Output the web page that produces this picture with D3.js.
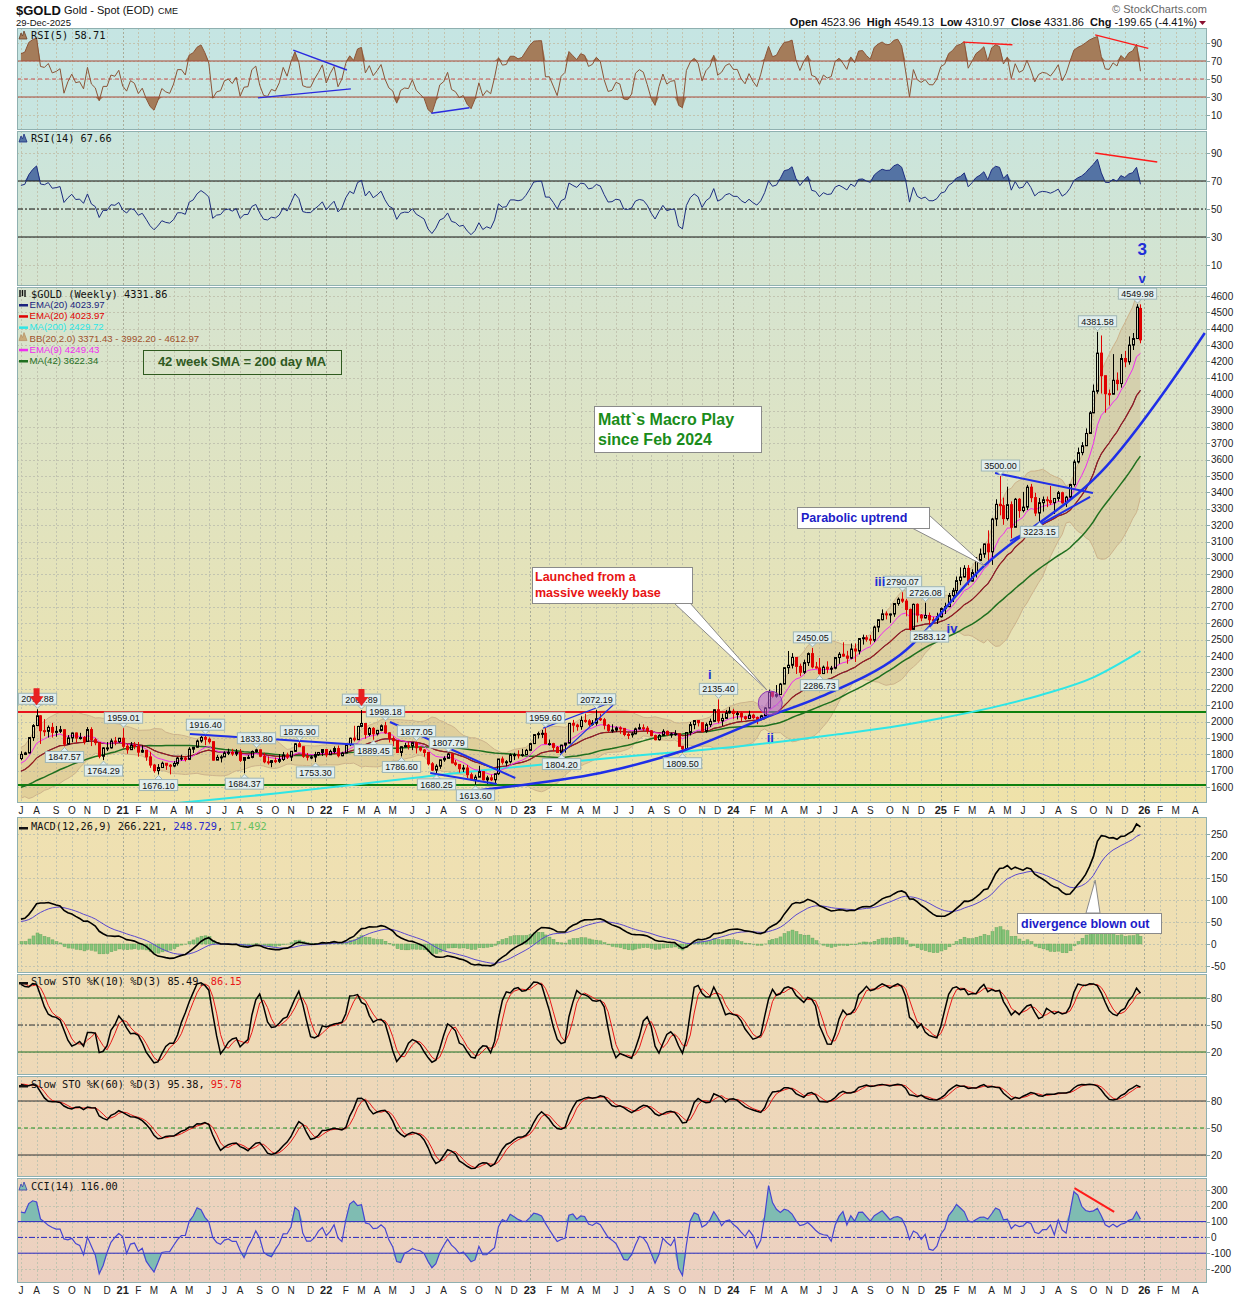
<!DOCTYPE html>
<html>
<head>
<meta charset="utf-8">
<script src="https://cdn.jsdelivr.net/npm/d3@7"></script>
<style>
  body { margin: 0; background: #fff; }
  text { font-family: "Liberation Sans", Arial, sans-serif; }
  .mono { font-family: "DejaVu Sans Mono", monospace; font-size: 10.3px; }
  .leg { font-family: "Liberation Sans", Arial, sans-serif; font-size: 9.6px; }
</style>
</head>
<body>
<svg id="chart" width="1250" height="1300"></svg>
<script>
// weekly closes before the visible window, only used to warm up the indicators
var warmupClose = [1506,1488,1499,1497,1504, 1488,1489,1505,1514, 1459,1468,1462,1464,
  1460,1476,1479,1511,1552, 1557,1557,1571,1589, 1570,1584,1643,1585,
  1674,1529,1498,1625,1620, 1683,1683,1727,1700, 1703,1743,1735,1730,
  1685,1730,1742,1771,1774];

// weekly bars [open, high, low, close], one per Monday from 6-Jul-2020
var bars2020 = [
  [1774,1818,1764,1799],[1799,1815,1795,1808],[1808,1905,1805,1902],[1902,1984,1882,1975],
  [1975,2075,1973,2035],[2035,2040,1863,1944],[1944,2015,1911,1940],[1940,1976,1902,1964],[1964,1992,1902,1934],
  [1934,1973,1907,1940],[1940,1973,1930,1950],[1950,1952,1848,1862],[1862,1917,1860,1900],
  [1900,1932,1873,1930],[1930,1933,1871,1899],[1899,1931,1890,1902],[1902,1911,1860,1878],
  [1878,1966,1877,1951],[1951,1965,1850,1889],[1889,1900,1855,1871],[1871,1875,1775,1788],[1788,1843,1764,1839],
  [1839,1875,1820,1839],[1839,1896,1835,1881],[1881,1906,1855,1877],[1877,1900,1870,1898]
];
var bars2021 = [
  [1898,1959,1835,1849],[1849,1863,1803,1828],[1828,1875,1826,1856],[1856,1875,1831,1848],
  [1848,1875,1785,1813],[1813,1855,1808,1824],[1824,1824,1760,1784],[1784,1816,1717,1734],
  [1734,1740,1687,1700],[1700,1740,1676,1719],[1719,1755,1719,1745],[1745,1745,1705,1733],[1733,1740,1677,1728],
  [1728,1758,1721,1744],[1744,1784,1731,1777],[1777,1797,1761,1777],[1777,1790,1756,1769],
  [1769,1843,1766,1831],[1831,1845,1808,1843],[1843,1890,1840,1881],[1881,1912,1870,1903],[1903,1916,1855,1892],
  [1892,1903,1865,1877],[1877,1878,1761,1764],[1764,1795,1764,1781],[1781,1795,1750,1784],
  [1784,1818,1783,1808],[1808,1834,1795,1812],[1812,1833,1790,1802],[1802,1832,1789,1814],
  [1814,1832,1753,1763],[1763,1783,1684,1780],[1780,1795,1771,1781],[1781,1823,1775,1817],[1817,1834,1810,1827],
  [1827,1830,1782,1788],[1788,1809,1745,1754],[1754,1787,1737,1750],[1750,1765,1721,1761],
  [1761,1781,1746,1757],[1757,1801,1747,1768],[1768,1814,1759,1796],[1796,1810,1771,1783],
  [1783,1818,1759,1818],[1818,1869,1814,1864],[1864,1877,1845,1846],[1846,1849,1778,1788],[1788,1808,1762,1783],
  [1783,1793,1770,1783],[1783,1815,1753,1798],[1798,1814,1790,1811],[1811,1831,1790,1829]
];
var bars2022 = [
  [1829,1830,1782,1797],[1797,1828,1796,1817],[1817,1848,1805,1835],[1835,1853,1781,1791],[1791,1815,1788,1808],
  [1808,1865,1807,1859],[1859,1902,1850,1898],[1898,1974,1878,1889],[1889,1974,1889,1970],
  [1970,2070,1965,1988],[1988,1990,1895,1921],[1921,1966,1910,1958],[1958,1966,1889,1925],
  [1925,1949,1915,1946],[1946,1982,1941,1974],[1974,1998,1925,1931],[1931,1936,1872,1896],
  [1896,1910,1850,1883],[1883,1885,1808,1811],[1811,1849,1787,1846],[1846,1870,1842,1853],[1853,1874,1829,1851],
  [1851,1872,1825,1871],[1871,1877,1805,1840],[1840,1847,1816,1826],[1826,1832,1785,1811],
  [1811,1814,1732,1742],[1742,1752,1697,1703],[1703,1739,1680,1727],[1727,1767,1711,1766],
  [1766,1788,1754,1775],[1775,1808,1773,1802],[1802,1802,1745,1747],[1747,1765,1727,1738],[1738,1740,1688,1712],
  [1712,1735,1691,1716],[1716,1735,1654,1675],[1675,1688,1640,1644],[1644,1675,1614,1660],
  [1660,1730,1659,1694],[1694,1698,1640,1644],[1644,1669,1618,1656],[1656,1675,1636,1644],[1644,1682,1616,1681],
  [1681,1772,1673,1771],[1771,1786,1737,1751],[1751,1764,1727,1754],[1754,1805,1744,1797],
  [1797,1809,1765,1797],[1797,1824,1774,1793],[1793,1833,1785,1798],[1798,1833,1796,1824]
];
var bars2023 = [
  [1824,1870,1822,1865],[1865,1922,1865,1920],[1920,1938,1896,1926],[1926,1949,1900,1928],[1928,1960,1861,1865],
  [1865,1890,1853,1865],[1865,1870,1818,1842],[1842,1850,1809,1811],[1811,1858,1804,1856],
  [1856,1870,1810,1868],[1868,1989,1866,1989],[1989,2010,1934,1978],[1978,1987,1944,1969],
  [1969,2032,1950,2007],[2007,2048,1992,2004],[2004,2015,1969,1983],[1983,2009,1975,1990],
  [1990,2072,1975,2017],[2017,2048,2003,2011],[2011,2022,1952,1978],[1978,1985,1937,1946],[1946,1983,1932,1948],
  [1948,1970,1937,1961],[1961,1971,1925,1958],[1958,1959,1910,1921],[1921,1934,1893,1919],
  [1919,1935,1902,1925],[1925,1963,1922,1955],[1955,1987,1951,1962],[1962,1983,1942,1959],[1959,1972,1925,1943],
  [1943,1948,1910,1914],[1914,1920,1885,1889],[1889,1922,1884,1915],[1915,1953,1913,1940],
  [1940,1945,1915,1919],[1919,1932,1901,1924],[1924,1947,1913,1925],[1925,1926,1846,1849],
  [1849,1850,1810,1833],[1833,1933,1833,1933],[1933,1997,1915,1981],[1981,2009,1953,2006],[2006,2007,1970,1993],
  [1993,1993,1932,1940],[1940,1993,1931,1981],[1981,2018,1966,2001],[2001,2075,2000,2072],
  [2072,2135,1990,2004],[2004,2048,1973,2019],[2019,2071,2016,2053],[2053,2088,2048,2063]
];
var bars2024 = [
  [2063,2078,2016,2049],[2049,2062,2013,2049],[2049,2060,2002,2029],[2029,2036,2010,2018],[2018,2066,2016,2039],
  [2039,2048,2015,2024],[2024,2031,1984,2013],[2013,2041,2011,2035],[2035,2088,2024,2083],
  [2083,2195,2079,2179],[2179,2185,2146,2155],[2155,2223,2146,2165],[2165,2236,2163,2229],
  [2229,2330,2228,2329],[2329,2431,2291,2344],[2344,2418,2324,2392],[2392,2394,2291,2337],[2337,2354,2277,2301],
  [2301,2378,2291,2360],[2360,2422,2340,2415],[2415,2450,2325,2334],[2334,2364,2324,2327],
  [2327,2388,2287,2293],[2293,2342,2293,2332],[2332,2368,2295,2321],[2321,2340,2293,2326],
  [2326,2392,2319,2391],[2391,2424,2353,2411],[2411,2484,2395,2400],[2400,2432,2353,2387],[2387,2477,2381,2443],
  [2443,2477,2364,2431],[2431,2510,2410,2507],[2507,2531,2470,2512],[2512,2528,2488,2503],
  [2503,2529,2471,2497],[2497,2586,2485,2577],[2577,2625,2546,2622],[2622,2685,2618,2658],[2658,2673,2624,2653],
  [2653,2660,2603,2657],[2657,2722,2640,2721],[2721,2758,2708,2747],[2747,2790,2725,2736],
  [2736,2750,2643,2685],[2685,2690,2537,2563],[2563,2721,2562,2716],[2716,2722,2605,2650],
  [2650,2657,2613,2633],[2633,2726,2630,2648],[2648,2666,2583,2622],[2622,2640,2610,2621],[2621,2665,2596,2640]
];
var bars2025 = [
  [2640,2697,2635,2690],[2690,2726,2657,2702],[2702,2786,2699,2770],[2770,2817,2730,2800],
  [2800,2886,2772,2861],[2861,2942,2833,2883],[2883,2955,2880,2936],[2936,2956,2833,2858],
  [2858,2930,2854,2910],[2910,3005,2880,2984],[2984,3057,2982,3023],[3023,3087,3000,3085],[3085,3168,2970,3037],
  [3037,3245,2957,3237],[3237,3358,3194,3327],[3327,3500,3260,3319],[3319,3368,3202,3240],
  [3240,3435,3228,3325],[3325,3345,3120,3187],[3187,3366,3187,3358],[3358,3365,3245,3289],
  [3289,3403,3278,3310],[3310,3446,3293,3432],[3432,3452,3340,3368],[3368,3398,3255,3274],[3274,3366,3223,3337],
  [3337,3375,3283,3355],[3355,3375,3310,3350],[3350,3439,3324,3337],[3337,3363,3268,3363],
  [3363,3409,3345,3398],[3398,3404,3331,3336],[3336,3379,3311,3371],[3371,3453,3355,3448],
  [3448,3600,3436,3586],[3586,3674,3577,3643],[3643,3707,3627,3685],[3685,3791,3685,3760],[3760,3897,3759,3886],
  [3886,4059,3884,4018],[4018,4381,4003,4251],[4251,4359,4004,4113],[4113,4114,3887,4003],
  [4003,4029,3931,4000],[4000,4245,3998,4085],[4085,4133,4023,4065],[4065,4245,4040,4218],
  [4218,4265,4165,4198],[4198,4353,4180,4300],[4300,4374,4270,4340],[4340,4550,4340,4532],[4524,4549,4311,4332]
];

// 200-week moving average
var ma200Dates = ["2020-07-06","2020-10-05","2021-01-04","2021-04-05","2021-07-05","2021-10-04","2022-01-03",
  "2022-04-04","2022-07-04","2022-10-03","2023-01-02","2023-04-03","2023-07-03","2023-10-02","2024-01-01",
  "2024-04-01","2024-07-01","2024-10-07","2025-01-06","2025-04-07","2025-07-07","2025-10-06","2025-12-29"];
var ma200Values = [1400,1435,1468,1500,1530,1560,1595,1630,1665,1700,1730,1760,1790,1815,1845,
  1880,1920,1965,2020,2085,2165,2270,2430];

// peak / trough labels
var labelWeeks = ["2020-08-03","2020-09-21","2020-11-30","2021-01-04","2021-03-08","2021-05-31","2021-08-09",
  "2021-08-30","2021-11-15","2021-12-13","2022-03-07","2022-03-28","2022-04-18","2022-05-16","2022-06-13",
  "2022-07-18","2022-08-08","2022-09-26","2023-01-30","2023-02-27","2023-05-01","2023-10-02","2023-12-04",
  "2024-05-20","2024-06-03","2024-10-28","2024-12-09","2024-12-16","2025-04-21","2025-06-30","2025-10-13","2025-12-22"];
var labelPrices = [2074.88,1847.57,1764.29,1959.01,1676.10,1916.40,1684.37,1833.80,1876.90,1753.30,2069.89,
  1889.45,1998.18,1786.60,1877.05,1680.25,1807.79,1613.60,1959.60,1804.20,2072.19,1809.50,2135.40,
  2450.05,2286.73,2790.07,2726.08,2583.12,3500.00,3223.15,4381.58,4549.98];
var labelUp = [1,0,0,1,0,1,0,1,1,0,1,0,1,0,1,0,1,0,1,0,1,0,1,1,0,1,1,0,1,0,1,1];
var arrowWeeks = ["2020-08-03","2022-03-07"];

// hand-drawn trendlines in the price panel [date, price, date, price]
var priceTrendlines = [
  ["2021-05-04",1924,"2022-03-08",1857],
  ["2022-04-27",1997,"2022-12-07",1655],
  ["2022-07-08",1686,"2022-11-04",1618],
  ["2023-01-26",1960,"2023-05-29",2119],
  ["2023-02-25",1796,"2023-05-31",2101],
  ["2025-04-13",3519,"2025-10-05",3396],
  ["2025-05-10",3103,"2025-09-30",3372]
];
var parabolaDates = ["2022-09-05","2023-05-08","2023-10-07","2024-03-01","2024-06-04","2024-10-25","2025-03-26","2025-10-18","2026-04-23"];
var parabolaPrices = [1569,1686,1826,2028,2150,2407,2956,3519,4374];

var rsi5Lines = [
  {c:"#2a2ae0", p:["2021-11-05",82,"2022-02-09",60]},
  {c:"#2a2ae0", p:["2021-09-03",29,"2022-02-16",39]},
  {c:"#2a2ae0", p:["2022-07-10",12,"2022-09-16",18]},
  {c:"#ff1a1a", p:["2025-02-15",91,"2025-05-14",88]},
  {c:"#ff1a1a", p:["2025-10-09",99,"2026-01-12",84]}
];
var rsi14Lines = [{c:"#ff1a1a", p:["2025-10-09",90,"2026-01-28",83.6]}];
var cciLines = [{c:"#ff1a1a", p:["2025-09-02",312,"2025-11-12",162]}];

var waveLabels = [
  {t:"i", d:"2023-11-20", v:2258, s:13},
  {t:"ii", d:"2024-03-07", v:1875, s:13},
  {t:"iii", d:"2024-09-19", v:2830, s:13},
  {t:"iv", d:"2025-01-26", v:2540, s:13},
  {t:"3", d:"2026-01-01", v:4850, s:17},
  {t:"v", d:"2026-01-01", v:4680, s:13}
];

// ---------------------------------------------------------------
var svg = d3.select("#chart");
var L = 17, R = 1207;
var parse = d3.utcParse("%Y-%m-%d");
var bars = [].concat(bars2020, bars2021, bars2022, bars2023, bars2024, bars2025);
var first = parse("2020-07-06");
var dates = bars.map(function(b, i) { return d3.utcDay.offset(first, 7 * i); });
var nW = warmupClose.length;

var x = d3.scaleUtc().domain([parse("2020-06-29"), parse("2026-04-27")]).range([L, R]);

// all closes / highs / lows incl. warm-up
var closeAll = warmupClose.concat(bars.map(function(b) { return b[3]; }));
var highAll = warmupClose.concat(bars.map(function(b) { return b[1]; }));
var lowAll = warmupClose.concat(bars.map(function(b) { return b[2]; }));

function sma(a, n) {
  return a.map(function(v, i) { return d3.mean(a.slice(Math.max(0, i - n + 1), i + 1)); });
}
function ema(a, n) {
  var k = 2 / (n + 1), out = [];
  a.forEach(function(v, i) { out.push(i === 0 ? v : v * k + out[i - 1] * (1 - k)); });
  return out;
}
function rsi(a, n) {
  var ag = 0, al = 0, out = [50];
  for (var i = 1; i < a.length; i++) {
    var ch = a[i] - a[i - 1], g = Math.max(ch, 0), l = Math.max(-ch, 0);
    if (i <= n) { ag += g / n; al += l / n; }
    else { ag = (ag * (n - 1) + g) / n; al = (al * (n - 1) + l) / n; }
    out.push(al === 0 ? 100 : 100 - 100 / (1 + ag / al));
  }
  return out;
}
function stoch(n) {
  var fk = closeAll.map(function(c, i) {
    var s = Math.max(0, i - n + 1);
    var hh = d3.max(highAll.slice(s, i + 1)), ll = d3.min(lowAll.slice(s, i + 1));
    return hh === ll ? 50 : (c - ll) / (hh - ll) * 100;
  });
  var k = sma(fk, 3);
  return { k: k, d: sma(k, 3) };
}
function cci(n) {
  var tp = closeAll.map(function(c, i) { return (highAll[i] + lowAll[i] + c) / 3; });
  return tp.map(function(t, i) {
    var w = tp.slice(Math.max(0, i - n + 1), i + 1);
    var m = d3.mean(w), md = d3.mean(w, function(v) { return Math.abs(v - m); });
    return md === 0 ? 0 : (t - m) / (0.015 * md);
  });
}
function cut(a) { return a.slice(nW); }

var ema20 = cut(ema(closeAll, 20)), ema9 = cut(ema(closeAll, 9)), ma42 = cut(sma(closeAll, 42));
var bbMid = sma(closeAll, 20);
var bbDev = closeAll.map(function(v, i) {
  var w = closeAll.slice(Math.max(0, i - 19), i + 1), m = bbMid[i];
  return Math.sqrt(d3.mean(w, function(z) { return (z - m) * (z - m); }));
});
var bbUp = cut(bbMid.map(function(m, i) { return m + 2 * bbDev[i]; }));
var bbLo = cut(bbMid.map(function(m, i) { return m - 2 * bbDev[i]; }));
var rsi5 = cut(rsi(closeAll, 5)), rsi14 = cut(rsi(closeAll, 14));
var e12 = ema(closeAll, 12), e26 = ema(closeAll, 26);
var macdAll = e12.map(function(v, i) { return v - e26[i]; });
var sigAll = ema(macdAll, 9);
var macd = cut(macdAll), sig = cut(sigAll), hist = macd.map(function(v, i) { return v - sig[i]; });
var st10 = stoch(10), st60 = stoch(60);
var k10 = cut(st10.k), d10 = cut(st10.d), k60 = cut(st60.k), d60 = cut(st60.d);
var cci14 = cut(cci(14));

// ---------------------------------------------------------------
var defs = svg.append("defs");
var panels = {
  rsi5:  { top: 28,   bottom: 130,  y: d3.scaleLinear().domain([10, 90]).range([115, 43]),   ticks: [10,30,50,70,90], c: ["#c5e5e3", "#c8e5df"] },
  rsi14: { top: 131,  bottom: 286,  y: d3.scaleLinear().domain([10, 90]).range([265, 153]),  ticks: [10,30,50,70,90], c: ["#cae5dd", "#d5e4cf"] },
  price: { top: 287,  bottom: 803,  y: d3.scaleLinear().domain([1600, 4600]).range([787, 296]), ticks: d3.range(1600, 4601, 100), c: ["#d6e4d0", "#efe2a9"] },
  macd:  { top: 817,  bottom: 973,  y: d3.scaleLinear().domain([-50, 250]).range([966, 834]), ticks: [-50,0,50,100,150,200,250], c: ["#efe1b1", "#eedeb4"] },
  sto10: { top: 974,  bottom: 1075, y: d3.scaleLinear().domain([20, 80]).range([1052, 998]),  ticks: [20,50,80], c: ["#eedcb5", "#eed9b8"] },
  sto60: { top: 1076, bottom: 1177, y: d3.scaleLinear().domain([20, 80]).range([1155, 1101]), ticks: [20,50,80], c: ["#eed8b9", "#edd5bb"] },
  cci:   { top: 1178, bottom: 1283, y: d3.scaleLinear().domain([-200, 300]).range([1269, 1190]), ticks: [-200,-100,0,100,200,300], c: ["#edd4bd", "#ecd0c1"] }
};

var monthTicks = d3.utcMonday.range(first, parse("2026-04-28")).filter(function(d, i, arr) {
  return i === 0 || d.getUTCMonth() !== arr[i - 1].getUTCMonth();
});

Object.keys(panels).forEach(function(name) {
  var p = panels[name];
  var gr = defs.append("linearGradient").attr("id", "bg-" + name).attr("x1", 0).attr("x2", 0).attr("y1", 0).attr("y2", 1);
  gr.append("stop").attr("offset", "0%").attr("stop-color", p.c[0]);
  gr.append("stop").attr("offset", "100%").attr("stop-color", p.c[1]);
  defs.append("clipPath").attr("id", "clip-" + name).append("rect")
    .attr("x", L).attr("y", p.top).attr("width", R - L).attr("height", p.bottom - p.top);
  var g = svg.append("g");
  g.append("rect").attr("x", L).attr("y", p.top).attr("width", R - L).attr("height", p.bottom - p.top)
    .attr("fill", "url(#bg-" + name + ")");
  g.selectAll(".vg").data(monthTicks).join("line")
    .attr("x1", function(d) { return Math.round(x(d)) + 0.5; }).attr("x2", function(d) { return Math.round(x(d)) + 0.5; })
    .attr("y1", p.top).attr("y2", p.bottom)
    .attr("stroke", d => d.getUTCMonth() === 0 ? "#a8ab98" : "#c2c4b0").attr("stroke-dasharray", "2,2").attr("stroke-width", 1);
  g.selectAll(".hg").data(p.ticks).join("line")
    .attr("x1", L).attr("x2", R).attr("y1", function(t) { return Math.round(p.y(t)) + 0.5; }).attr("y2", function(t) { return Math.round(p.y(t)) + 0.5; })
    .attr("stroke", "#c2c4b0").attr("stroke-dasharray", "2,2");
  // right axis
  g.selectAll(".tk").data(p.ticks).join("line")
    .attr("x1", R).attr("x2", R + 3).attr("y1", function(t) { return Math.round(p.y(t)) + 0.5; }).attr("y2", function(t) { return Math.round(p.y(t)) + 0.5; })
    .attr("stroke", "#8aa8a8");
  g.selectAll(".tl").data(p.ticks).join("text")
    .attr("x", R + 4).attr("y", function(t) { return p.y(t) + 3.5; })
    .attr("font-size", "10px").attr("fill", "#222").text(function(t) { return t; });
  p.g = svg.append("g").attr("clip-path", "url(#clip-" + name + ")");
});

function xi(i) { return x(dates[i]); }
function hline(p, v, col, dash, w) {
  p.g.append("line").attr("x1", L).attr("x2", R).attr("y1", p.y(v)).attr("y2", p.y(v))
    .attr("stroke", col).attr("stroke-width", w || 1).attr("stroke-dasharray", dash || null);
}
function seriesLine(p, arr, col, w) {
  p.g.append("path").datum(arr).attr("fill", "none").attr("stroke", col).attr("stroke-width", w || 1)
    .attr("d", d3.line().x(function(d, i) { return xi(i); }).y(function(d) { return p.y(d); }));
}
function bandFill(p, arr, level, above, col) {
  p.g.append("path").datum(arr).attr("fill", col).attr("stroke", "none")
    .attr("d", d3.area().x(function(d, i) { return xi(i); }).y0(p.y(level))
      .y1(function(d) { return p.y(above ? Math.max(d, level) : Math.min(d, level)); }));
}
function segLines(p, list, w) {
  list.forEach(function(s) {
    p.g.append("line").attr("x1", x(parse(s.p[0]))).attr("y1", p.y(s.p[1]))
      .attr("x2", x(parse(s.p[2]))).attr("y2", p.y(s.p[3])).attr("stroke", s.c).attr("stroke-width", w || 1.6);
  });
}

// ---------- RSI(5)
var P = panels.rsi5;
bandFill(P, rsi5, 70, true, "#a47c5a");
bandFill(P, rsi5, 30, false, "#a47c5a");
hline(P, 70, "#a84a3a", null, 1);
hline(P, 30, "#a84a3a", null, 1);
hline(P, 50, "#c85050", "4,3", 1);
seriesLine(P, rsi5, "#8c5436", 1);
segLines(P, rsi5Lines, 1.4);

// ---------- RSI(14)
P = panels.rsi14;
bandFill(P, rsi14, 70, true, "#5473a4");
bandFill(P, rsi14, 30, false, "#5473a4");
hline(P, 70, "#111", null, 1);
hline(P, 30, "#111", null, 1);
hline(P, 50, "#111", "6,2,2,2", 1);
seriesLine(P, rsi14, "#1d2d80", 1);
segLines(P, rsi14Lines, 1.6);

// ---------- price
P = panels.price;
var yP = P.y;
P.g.append("path").datum(bbUp).attr("fill", "#c9ab7a").attr("fill-opacity", 0.35).attr("stroke", "none")
  .attr("d", d3.area().x(function(d, i) { return xi(i); }).y0(function(d, i) { return yP(bbLo[i]); }).y1(function(d) { return yP(d); }));
seriesLine(P, bbUp, "#cdb48c", 1);
seriesLine(P, bbLo, "#cdb48c", 1);
// support / resistance
P.g.append("line").attr("x1", L).attr("x2", x(parse("2024-03-04"))).attr("y1", yP(2058)).attr("y2", yP(2058)).attr("stroke", "#e8141c").attr("stroke-width", 2);
P.g.append("line").attr("x1", x(parse("2024-03-04"))).attr("x2", R).attr("y1", yP(2058)).attr("y2", yP(2058)).attr("stroke", "#0e800e").attr("stroke-width", 2);
P.g.append("line").attr("x1", L).attr("x2", R).attr("y1", yP(1612)).attr("y2", yP(1612)).attr("stroke", "#0e800e").attr("stroke-width", 2);
// MA200
P.g.append("path").datum(ma200Values).attr("fill", "none").attr("stroke", "#2ee6e6").attr("stroke-width", 2)
  .attr("d", d3.line().curve(d3.curveMonotoneX).x(function(d, i) { return x(parse(ma200Dates[i])); }).y(function(d) { return yP(d); }));
seriesLine(P, ma42, "#1f6f1f", 1.5);
seriesLine(P, ema20, "#1a237e", 1);
seriesLine(P, ema20, "#9a1c1c", 1.2);
seriesLine(P, ema9, "#f02cf0", 1);

// candles
bars.forEach(function(b, i) {
  var o = b[0], h = b[1], l = b[2], c = b[3];
  var prev = i ? bars[i - 1][3] : warmupClose[nW - 1];
  var col = c < prev ? "#e00000" : "#000";
  var cx = Math.round(xi(i));
  var yt = yP(Math.max(o, c)), yb = yP(Math.min(o, c));
  P.g.append("line").attr("x1", cx + 0.5).attr("x2", cx + 0.5).attr("y1", yP(h)).attr("y2", yt).attr("stroke", col);
  P.g.append("line").attr("x1", cx + 0.5).attr("x2", cx + 0.5).attr("y1", yb).attr("y2", yP(l)).attr("stroke", col);
  P.g.append("rect").attr("x", cx - 0.5).attr("y", yt).attr("width", 2).attr("height", Math.max(1, yb - yt))
    .attr("fill", c < o ? col : "none").attr("stroke", col).attr("stroke-width", 1);
});

// trendlines
priceTrendlines.forEach(function(s) {
  P.g.append("line").attr("x1", x(parse(s[0]))).attr("y1", yP(s[1])).attr("x2", x(parse(s[2]))).attr("y2", yP(s[3]))
    .attr("stroke", "#1f2fe8").attr("stroke-width", s[0] < "2022-07-09" || s[0] > "2025" ? 2 : 1.2);
});
P.g.append("path").datum(parabolaPrices).attr("fill", "none").attr("stroke", "#1f2fe8").attr("stroke-width", 2.5)
  .attr("d", d3.line().curve(d3.curveCatmullRom).x(function(d, i) { return x(parse(parabolaDates[i])); }).y(function(d) { return yP(d); }));

// purple launch circle
P.g.append("circle").attr("cx", x(parse("2024-03-07"))).attr("cy", yP(2113)).attr("r", 12)
  .attr("fill", "#b05ad8").attr("fill-opacity", 0.55).attr("stroke", "#8a3ab0");

// peak / trough labels
labelWeeks.forEach(function(w, k) {
  var cx = Math.round(x(parse(w))) + 0.5, v = labelPrices[k], up = labelUp[k];
  var txt = v.toFixed(2), tw = txt.length * 4.9 + 4;
  var yb = up ? yP(v) - 5 : yP(v) + 5;
  var top = up ? yb - 11 : yb;
  var g = P.g.append("g");
  g.append("path").attr("d", up ? "M" + (cx - 4) + "," + yb + "L" + cx + "," + (yb + 4) + "L" + (cx + 4) + "," + yb + "Z"
                                : "M" + (cx - 4) + "," + yb + "L" + cx + "," + (yb - 4) + "L" + (cx + 4) + "," + yb + "Z")
    .attr("fill", "#e1eeee").attr("stroke", "#9fb6b6");
  g.append("rect").attr("x", cx - tw / 2).attr("y", top).attr("width", tw).attr("height", 11)
    .attr("fill", "#e1eeee").attr("stroke", "#9fb6b6");
  g.append("text").attr("x", cx).attr("y", top + 9).attr("text-anchor", "middle").attr("font-size", "9px").attr("fill", "#111").text(txt);
});
arrowWeeks.forEach(function(w, k) {
  var cx = x(parse(w)), v = bars[dates.findIndex(function(d) { return +d === +parse(w); })][1];
  var tip = yP(v) - 4;
  P.g.append("path").attr("d", "M" + (cx - 3) + "," + (tip - 17) + "h6v8h4l-7,9l-7,-9h4z").attr("fill", "#e82020");
});

// wave labels
waveLabels.forEach(function(w) {
  svg.append("text").attr("x", x(parse(w.d))).attr("y", yP(w.v)).attr("text-anchor", "middle")
    .attr("font-size", w.s + "px").attr("font-weight", "bold").attr("fill", "#1f2fd8").text(w.t);
});

// ---------- MACD
P = panels.macd;
P.g.selectAll(".hb").data(hist).join("rect")
  .attr("x", function(d, i) { return Math.round(xi(i)) - 1; }).attr("width", 3)
  .attr("y", function(d) { return P.y(Math.max(0, d)); }).attr("height", function(d) { return Math.abs(P.y(d) - P.y(0)); })
  .attr("fill", "#86c47a").attr("stroke", "#5f9f55").attr("stroke-width", 0.4);
seriesLine(P, sig, "#5a48d0", 1);
seriesLine(P, macd, "#000", 1.6);

// ---------- STO 10
P = panels.sto10;
hline(P, 80, "#1e6e1e", null, 1);
hline(P, 20, "#1e6e1e", null, 1);
hline(P, 50, "#333", "6,2,2,2", 1);
seriesLine(P, d10, "#e81818", 1);
seriesLine(P, k10, "#000", 1.5);

// ---------- STO 60
P = panels.sto60;
hline(P, 80, "#333", null, 1);
hline(P, 20, "#333", null, 1);
hline(P, 50, "#1e8e1e", "4,3", 1);
seriesLine(P, d60, "#e81818", 1);
seriesLine(P, k60, "#000", 1.5);

// ---------- CCI
P = panels.cci;
bandFill(P, cci14, 100, true, "#7fbcb2");
bandFill(P, cci14, -100, false, "#7fbcb2");
hline(P, 100, "#2828c0", null, 1);
hline(P, -100, "#2828c0", null, 1);
hline(P, 0, "#2828c0", "6,2,2,2", 1);
seriesLine(P, cci14, "#4646d2", 1.2);
segLines(P, cciLines, 2);

// panel borders
Object.keys(panels).forEach(function(name) {
  var p = panels[name];
  svg.append("rect").attr("x", L + 0.5).attr("y", p.top + 0.5).attr("width", R - L - 1).attr("height", p.bottom - p.top - 1)
    .attr("fill", "none").attr("stroke", "#8fb0b0");
});

// x axes
var months = "JFMAMJJASOND";
[814, 1294].forEach(function(yy) {
  svg.selectAll(null).data(monthTicks).join("text")
    .attr("x", function(d) { return x(d); }).attr("y", yy).attr("text-anchor", "middle")
    .attr("font-size", function(d) { return d.getUTCMonth() === 0 ? "11px" : "10px"; })
    .attr("font-weight", function(d) { return d.getUTCMonth() === 0 ? "bold" : "normal"; })
    .attr("fill", "#222")
    .text(function(d) { return d.getUTCMonth() === 0 ? d3.utcFormat("%y")(d) : months[d.getUTCMonth()]; });
});

// ---------- callouts
function callout(bx, by, bw, bh, wedge, fill, stroke) {
  if (wedge) svg.append("path").attr("d", "M" + wedge[0] + "L" + wedge[1] + "L" + wedge[2] + "Z")
    .attr("fill", "#fff").attr("stroke", "#8a8a8a");
  svg.append("rect").attr("x", bx + 0.5).attr("y", by + 0.5).attr("width", bw).attr("height", bh)
    .attr("fill", fill).attr("stroke", stroke);
}
callout(143, 350, 198, 24, null, "none", "#2f5a1f");
svg.append("text").attr("x", 242).attr("y", 366).attr("text-anchor", "middle")
  .attr("font-size", "13px").attr("font-weight", "bold").attr("fill", "#2f5a1f").text("42 week SMA = 200 day MA");

callout(594, 406, 167, 46, null, "#fff", "#8a8a8a");
svg.append("text").attr("x", 598).attr("y", 425).attr("font-size", "16px").attr("font-weight", "bold").attr("fill", "#1a8c1a").text("Matt`s Macro Play");
svg.append("text").attr("x", 598).attr("y", 445).attr("font-size", "16px").attr("font-weight", "bold").attr("fill", "#1a8c1a").text("since Feb 2024");

var tgt1 = [x(parse("2024-03-01")), yP(2193)];
callout(532, 567, 160, 36, [[674, 603], tgt1, [690, 603]], "#fff", "#8a8a8a");
svg.append("text").attr("x", 535).attr("y", 581).attr("font-size", "12.5px").attr("font-weight", "bold").attr("fill", "#e81414").text("Launched from a");
svg.append("text").attr("x", 535).attr("y", 597).attr("font-size", "12.5px").attr("font-weight", "bold").attr("fill", "#e81414").text("massive weekly base");

var tgt2 = [x(parse("2025-03-26")), yP(2950)];
callout(797, 507, 132, 21, [[912, 528], tgt2, [929, 515]], "#fff", "#8a8a8a");
svg.append("text").attr("x", 801).attr("y", 522).attr("font-size", "12.5px").attr("font-weight", "bold").attr("fill", "#1c1cc8").text("Parabolic uptrend");

var tgt3 = [x(parse("2025-10-09")), panels.macd.y(145)];
callout(1017, 913, 144, 20, [[1086, 913], tgt3, [1100, 913]], "#fff", "#8a8a8a");
svg.append("text").attr("x", 1021).attr("y", 928).attr("font-size", "12.5px").attr("font-weight", "bold").attr("fill", "#1c1cc8").text("divergence blown out");

// ---------- header
svg.append("text").attr("x", 16).attr("y", 15).attr("font-size", "13px").attr("font-weight", "bold").attr("fill", "#111").text("$GOLD");
svg.append("text").attr("x", 64).attr("y", 14).attr("font-size", "11px").attr("fill", "#111").text("Gold - Spot (EOD)");
svg.append("text").attr("x", 158).attr("y", 14).attr("font-size", "9px").attr("fill", "#111").text("CME");
svg.append("text").attr("x", 16).attr("y", 26).attr("font-size", "9.5px").attr("fill", "#111").text("29-Dec-2025");
svg.append("text").attr("x", 1207).attr("y", 13).attr("text-anchor", "end").attr("font-size", "11px").attr("fill", "#666").text("\u00A9 StockCharts.com");
var hdr = svg.append("text").attr("x", 1197).attr("y", 26).attr("text-anchor", "end").attr("font-size", "11px").attr("fill", "#111");
[["Open", 1], [" 4523.96  ", 0], ["High", 1], [" 4549.13  ", 0], ["Low", 1], [" 4310.97  ", 0], ["Close", 1], [" 4331.86  ", 0], ["Chg", 1], [" -199.65 (-4.41%)", 0]]
  .forEach(function(s) { hdr.append("tspan").attr("font-weight", s[1] ? "bold" : "normal").attr("xml:space", "preserve").text(s[0]); });
svg.append("path").attr("d", "M1199,21h7l-3.5,4z").attr("fill", "#8a1030");

// ---------- legends
function mountain(x0, y0, col, edge) {
  svg.append("path").attr("d", "M" + x0 + "," + (y0 + 8) + "l2,-6l1.5,3l1.5,-5l3,8z").attr("fill", col).attr("stroke", edge).attr("stroke-width", 0.8);
}
function dash(x0, y0, col) {
  svg.append("rect").attr("x", x0).attr("y", y0).attr("width", 9).attr("height", 2.5).attr("fill", col);
}
mountain(19, 31, "#a47c5a", "#6a4028");
svg.append("text").attr("class", "mono").attr("x", 31).attr("y", 39).attr("fill", "#111").text("RSI(5) 58.71");
mountain(19, 134, "#5473a4", "#1d2d80");
svg.append("text").attr("class", "mono").attr("x", 31).attr("y", 142).attr("fill", "#111").text("RSI(14) 67.66");

svg.append("path").attr("d", "M20,297v-7M22.5,296v-6M25,297v-7").attr("stroke", "#111").attr("stroke-width", 1.4);
svg.append("text").attr("class", "mono").attr("x", 31).attr("y", 298).attr("fill", "#111").text("$GOLD (Weekly) 4331.86");
var legRows = [
  ["EMA(20) 4023.97", "#1a237e"],
  ["EMA(20) 4023.97", "#e00000"],
  ["MA(200) 2429.72", "#2ee6e6"],
  ["BB(20,2.0) 3371.43 - 3992.20 - 4612.97", "#a0522d"],
  ["EMA(9) 4249.43", "#f02cf0"],
  ["MA(42) 3622.34", "#1f6f1f"]
];
legRows.forEach(function(r, k) {
  var yy = 308 + k * 11.2;
  if (k === 3) mountain(19, yy - 9, "#c9ab7a", "#b89468");
  else dash(19, yy - 4, r[1]);
  svg.append("text").attr("class", "leg").attr("x", 29.5).attr("y", yy).attr("fill", r[1]).text(r[0]);
});

dash(19, 827, "#111");
var ml = svg.append("text").attr("class", "mono").attr("x", 31).attr("y", 830);
ml.append("tspan").attr("fill", "#111").text("MACD(12,26,9) 266.221, ");
ml.append("tspan").attr("fill", "#2a2acc").text("248.729");
ml.append("tspan").attr("fill", "#111").text(", ");
ml.append("tspan").attr("fill", "#66c060").text("17.492");

dash(19, 982, "#111");
var s1 = svg.append("text").attr("class", "mono").attr("x", 31).attr("y", 985);
s1.append("tspan").attr("fill", "#111").text("Slow STO %K(10) %D(3) 85.49, ");
s1.append("tspan").attr("fill", "#e81818").text("86.15");
dash(19, 1085, "#111");
var s2 = svg.append("text").attr("class", "mono").attr("x", 31).attr("y", 1088);
s2.append("tspan").attr("fill", "#111").text("Slow STO %K(60) %D(3) 95.38, ");
s2.append("tspan").attr("fill", "#e81818").text("95.78");
mountain(19, 1182, "#7fbcb2", "#3a3ab0");
svg.append("text").attr("class", "mono").attr("x", 31).attr("y", 1190).attr("fill", "#111").text("CCI(14) 116.00");
</script>
</body>
</html>
